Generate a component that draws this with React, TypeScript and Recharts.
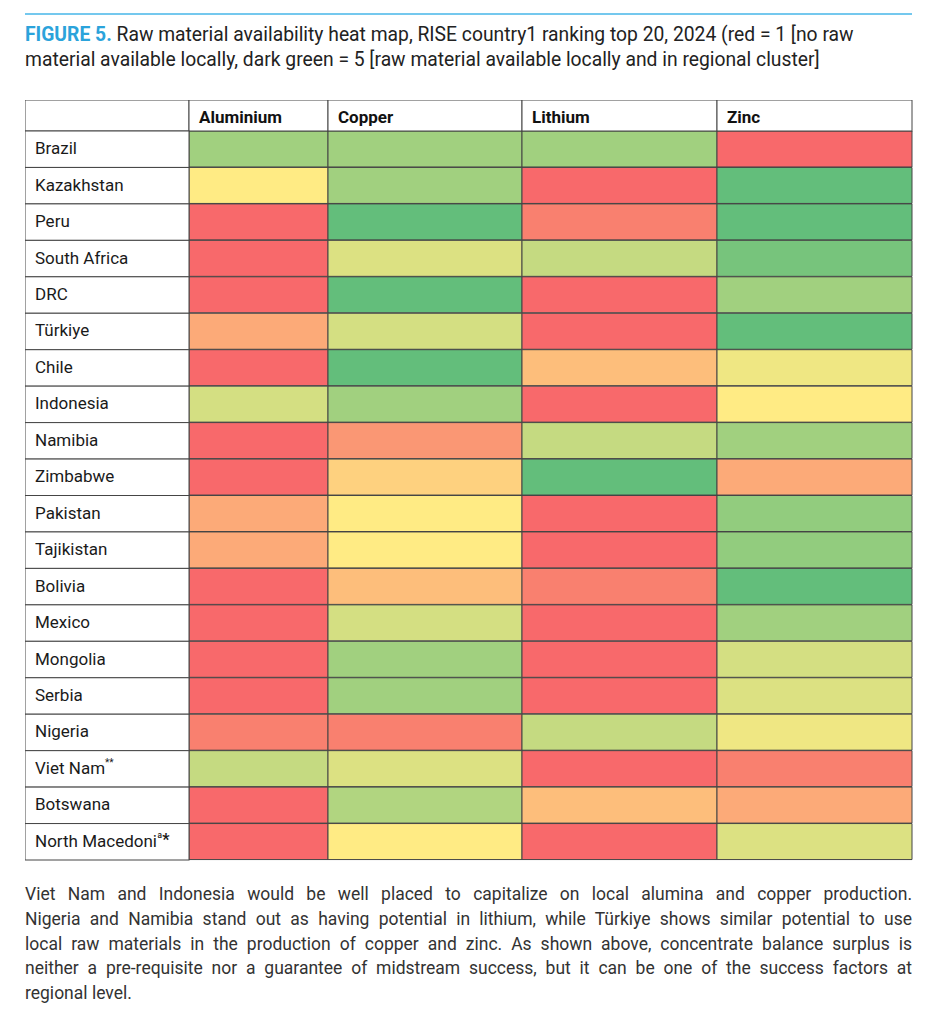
import React from "react";
import { BarChart, Bar, XAxis, YAxis, Cell } from "recharts";

// Countries, top 20 of the RISE ranking, in table order
const countries = [
  "Brazil", "Kazakhstan", "Peru", "South Africa", "DRC", "Türkiye", "Chile",
  "Indonesia", "Namibia", "Zimbabwe", "Pakistan", "Tajikistan", "Bolivia",
  "Mexico", "Mongolia", "Serbia", "Nigeria", "Viet Nam**", "Botswana",
  "North Macedoniª*",
];

const materials = ["Aluminium", "Copper", "Lithium", "Zinc"];

// Availability scores (1 = none locally, 5 = local and regional cluster)
const aluminium = [4.2, 3, 1, 1, 1, 2, 1, 3.55, 1, 1, 2, 2, 1, 1, 1, 1, 1.35, 3.75, 1, 1];
const copper = [4.2, 4.2, 5, 3.45, 5, 3.55, 5, 4.2, 1.7, 2.6, 3, 3, 2.3, 3.55, 4.2, 4.2, 1.35, 3.45, 4, 3];
const lithium = [4.2, 1, 1.35, 3.75, 1, 1, 2.3, 1, 3.75, 5, 1, 1, 1.35, 1, 1, 1, 3.75, 1, 2.3, 1];
const zinc = [1, 5, 5, 4.75, 4.2, 5, 3.2, 3, 4.2, 2, 4.4, 4.4, 5, 4.2, 3.55, 3.45, 3.2, 1.35, 2, 3.45];

const seriesValues = [aluminium, copper, lithium, zinc];

// Table geometry (pixels)
const LABEL_W = 164;
const COL_SPAN = [139, 194, 195, 195];
const HEADER_H = 31;
const ROWS_H = 729;
const ROW_H = ROWS_H / countries.length;
const GRID = "#454545";
const FONT = "Roboto, 'Noto Sans', Arial, sans-serif";

const tableRows = countries.map((country, i) => {
  const row: Record<string, string | number> = { country };
  materials.forEach((m, k) => {
    row[m] = seriesValues[k][i];
  });
  return row;
});

const colStarts = COL_SPAN.map((_, k) =>
  COL_SPAN.slice(0, k).reduce((a, b) => a + b, 0)
);

// Three-colour scale: red (1) -> yellow (3) -> green (5)
function heat(v: number): string {
  const lo = [248, 105, 107];
  const mid = [255, 235, 132];
  const hi = [99, 190, 123];
  const [a, b, t] = v <= 3 ? [lo, mid, (v - 1) / 2] : [mid, hi, (v - 3) / 2];
  const c = a.map((x, i) => Math.round(x + (b[i] - x) * t));
  return `rgb(${c[0]},${c[1]},${c[2]})`;
}

function HeaderTick(props: any) {
  const { x, y, index } = props;
  const w = COL_SPAN[index];
  return (
    <g>
      {index === 0 && (
        <rect x={x - LABEL_W} y={y - HEADER_H} width={LABEL_W} height={HEADER_H}
          fill="#fff" stroke={GRID} strokeWidth={1} />
      )}
      <rect x={x} y={y - HEADER_H} width={w} height={HEADER_H}
        fill="#fff" stroke={GRID} strokeWidth={1} />
      <text x={x + 10} y={y - HEADER_H / 2 + 1} dominantBaseline="central"
        fontFamily={FONT} fontSize={17} fontWeight={700} fill="#111">
        {materials[index]}
      </text>
    </g>
  );
}

// Splits trailing footnote marks off a country name
function CountryName({ name }: { name: string }) {
  const m = name.match(/^(.*?)([ª*]+)$/);
  if (!m) return <>{name}</>;
  const [, base, marks] = m;
  if (marks === "**") {
    return (
      <>
        {base}
        <tspan fontSize={10} dy={-6}>{marks}</tspan>
      </>
    );
  }
  return (
    <>
      {base}
      <tspan fontSize={12} dy={-3}>ª</tspan>
      <tspan fontSize={16} fontWeight={700} dy={1}>*</tspan>
    </>
  );
}

function CountryTick(props: any) {
  const { x, y, payload } = props;
  return (
    <g>
      <rect x={x - LABEL_W} y={y - ROW_H / 2} width={LABEL_W} height={ROW_H}
        fill="#fff" stroke={GRID} strokeWidth={1} />
      <text x={x - LABEL_W + 10} y={y - 1} dominantBaseline="central"
        fontFamily={FONT} fontSize={17} fill="#1a1a1a">
        <CountryName name={payload.value} />
      </text>
    </g>
  );
}

const titleLines = [
  "Raw material availability heat map, RISE country1 ranking top 20, 2024 (red = 1 [no raw",
  "material available locally, dark green = 5 [raw material available locally and in regional cluster]",
];

const paragraphLines = [
  "Viet Nam and Indonesia would be well placed to capitalize on local alumina and copper production.",
  "Nigeria and Namibia stand out as having potential in lithium, while Türkiye shows similar potential to use",
  "local raw materials in the production of copper and zinc. As shown above, concentrate balance surplus is",
  "neither a pre-requisite nor a guarantee of midstream success, but it can be one of the success factors at",
  "regional level.",
];

export default function App() {
  return (
    <div style={{ position: "absolute", left: 0, top: 0, width: 951, height: 1024, background: "#fff" }}>
      <div style={{ position: "absolute", left: 25, top: 13, width: 887, height: 2, background: "#74C8EE" }} />
      <div style={{ position: "absolute", left: 25, top: 22, width: 920, fontFamily: FONT, fontSize: 19.3, lineHeight: "25px", color: "#222" }}>
        <div style={{ whiteSpace: "nowrap" }}>
          <span style={{ color: "#2BA3DB", fontWeight: 700 }}>FIGURE 5.</span> {titleLines[0]}
        </div>
        <div style={{ whiteSpace: "nowrap" }}>{titleLines[1]}</div>
      </div>

      <div style={{ position: "absolute", left: 25, top: 100 }}>
        <BarChart
          width={LABEL_W + 723 + 2}
          height={HEADER_H + ROWS_H + 2}
          data={tableRows}
          layout="vertical"
          barCategoryGap={0}
          margin={{ top: 0, right: 2, bottom: 2, left: 0 }}
        >
          <XAxis
            type="number"
            orientation="top"
            domain={[0, 723]}
            ticks={colStarts}
            interval={0}
            height={HEADER_H}
            tickSize={0}
            tickMargin={0}
            axisLine={false}
            tickLine={false}
            tick={<HeaderTick />}
          />
          <YAxis
            type="category"
            dataKey="country"
            width={LABEL_W}
            interval={0}
            tickSize={0}
            tickMargin={0}
            axisLine={false}
            tickLine={false}
            tick={<CountryTick />}
          />
          {materials.map((m, k) => (
            <Bar
              key={m}
              dataKey={() => COL_SPAN[k]}
              stackId="table"
              isAnimationActive={false}
            >
              {tableRows.map((row, i) => (
                <Cell key={i} fill={heat(row[m] as number)} stroke={GRID} strokeWidth={1} />
              ))}
            </Bar>
          ))}
        </BarChart>
      </div>

      <div style={{ position: "absolute", left: 25, top: 882, width: 887, fontFamily: FONT, fontSize: 17.5, lineHeight: "24.8px", color: "#333" }}>
        {paragraphLines.map((line, i) => (
          <div key={i} style={{ textAlign: "justify", textAlignLast: i < paragraphLines.length - 1 ? "justify" : "left", whiteSpace: "nowrap" }}>
            {line}
          </div>
        ))}
      </div>
    </div>
  );
}
